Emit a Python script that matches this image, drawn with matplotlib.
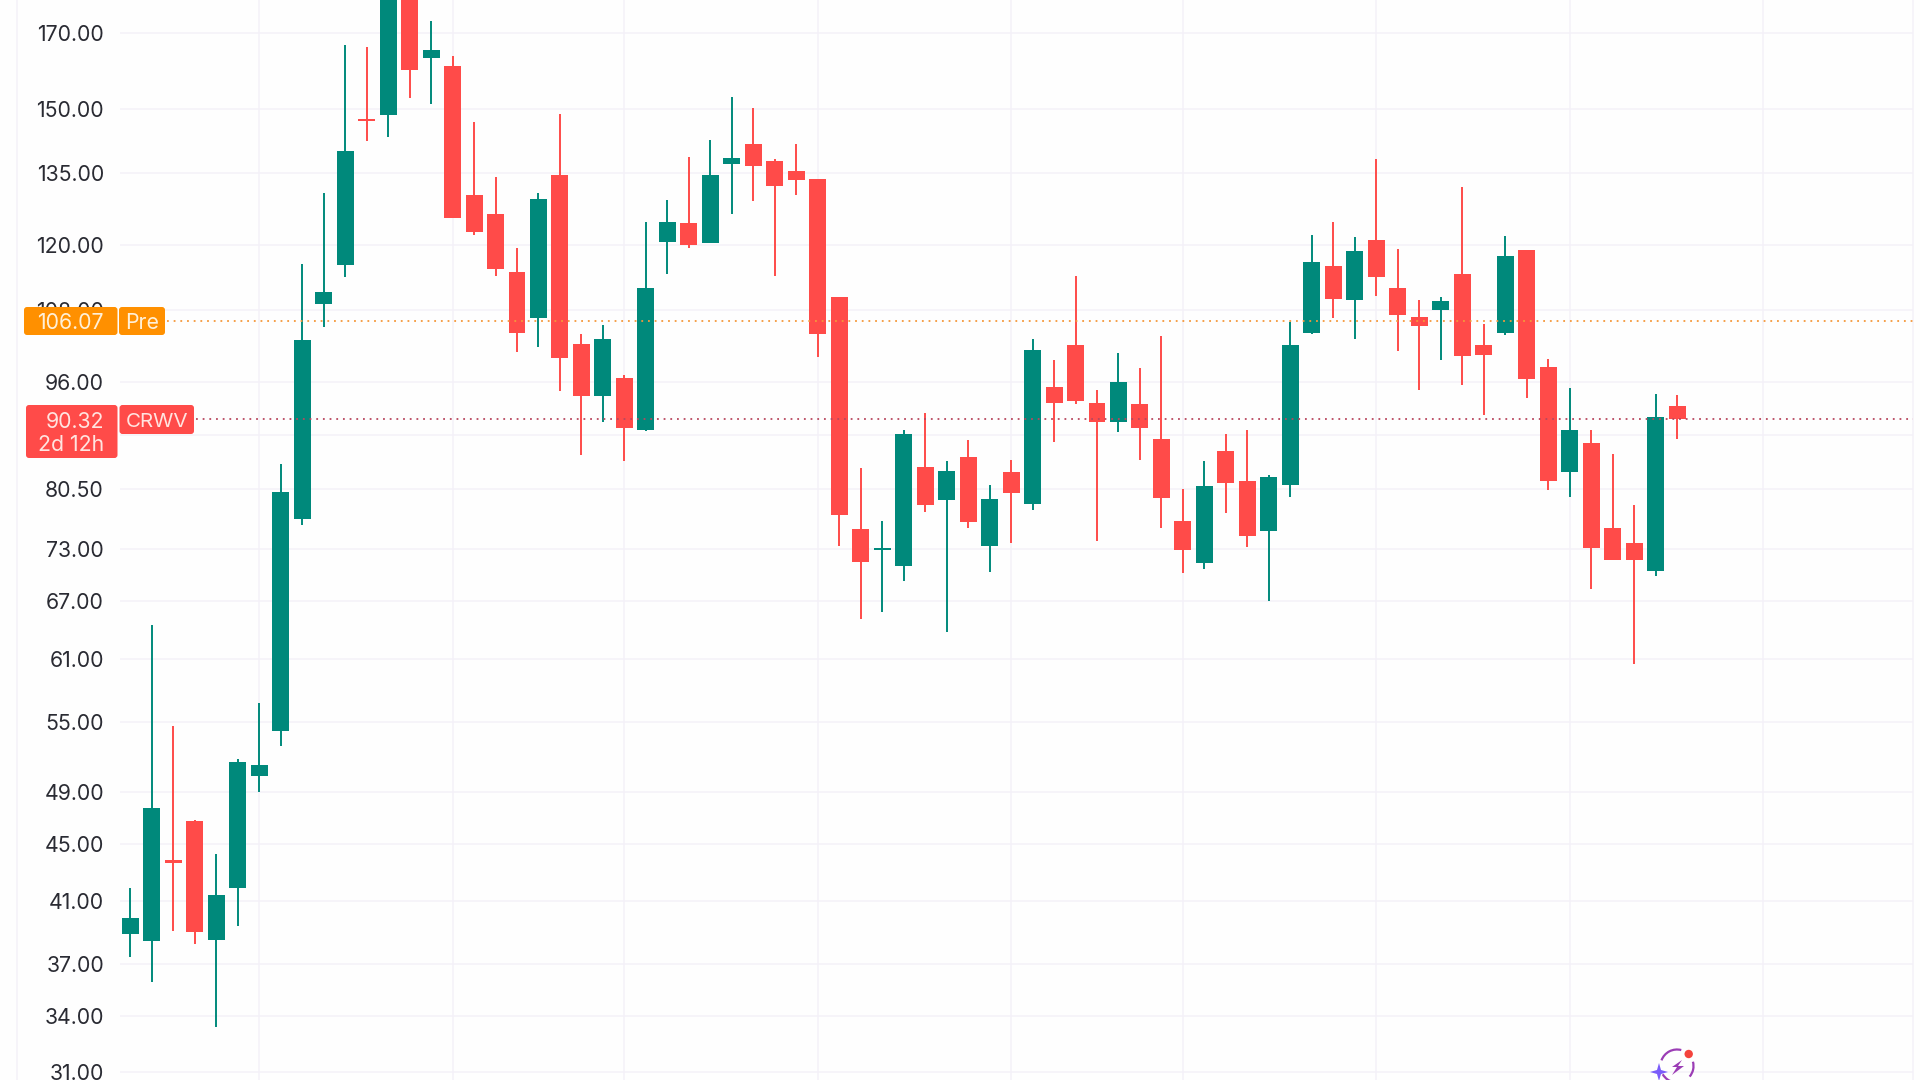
import matplotlib
matplotlib.use("Agg")
import matplotlib.pyplot as plt
from matplotlib.patches import FancyBboxPatch, Arc, Circle, Polygon
from matplotlib.transforms import blended_transform_factory

plt.rcParams["font.family"] = ["Inter", "DejaVu Sans"]

# daily candles (two run off the top of the chart)
opens = [38.89, 38.39, 43.86, 46.73, 38.51, 41.93, 50.32, 54.18, 76.73, 109.07,
         116.17, 147.64, 148.51, 188.0, 163.10, 161.07, 130.32, 126.40, 114.87, 106.53,
         134.72, 102.10, 93.82, 96.52, 88.68, 120.58, 124.52, 120.43, 137.06, 141.75,
         137.82, 135.55, 133.83, 110.23, 75.40, 72.93, 71.03, 83.51, 79.15, 84.91,
         73.37, 82.75, 78.57, 95.19, 101.99, 92.75, 89.80, 92.60, 87.34, 76.46,
         71.35, 85.74, 81.64, 75.14, 81.12, 104.01, 116.04, 109.71, 121.07, 111.94,
         106.73, 107.97, 114.56, 101.95, 103.89, 119.07, 98.29, 82.80, 86.82, 75.57,
         73.75, 70.36, 92.21]
highs = [41.87, 64.47, 54.67, 46.81, 44.30, 51.75, 56.75, 83.84, 116.37, 130.78,
         166.65, 166.00, 195.0, 192.0, 173.26, 163.62, 146.97, 134.15, 119.49, 130.78,
         148.76, 103.76, 105.29, 97.02, 124.73, 129.28, 138.76, 142.51, 153.10, 150.33,
         138.21, 141.66, 133.83, 110.23, 83.35, 76.42, 88.65, 91.18, 84.24, 87.20,
         81.07, 84.43, 102.93, 99.45, 114.22, 94.69, 100.56, 98.18, 103.38, 80.55,
         84.34, 88.19, 88.65, 82.42, 105.83, 122.03, 124.75, 121.67, 138.30, 119.39,
         109.73, 110.20, 132.05, 105.44, 121.83, 119.07, 99.67, 95.05, 88.75, 85.28,
         78.39, 94.15, 93.89]
lows = [37.40, 35.93, 39.03, 38.22, 33.39, 39.40, 49.00, 52.86, 75.97, 104.92,
        113.86, 142.46, 143.33, 152.87, 151.25, 125.60, 122.12, 114.13, 100.78, 101.61,
        94.56, 85.21, 89.88, 84.34, 88.60, 114.52, 119.43, 120.43, 126.32, 128.98,
        114.10, 130.38, 100.00, 73.35, 65.13, 65.87, 69.23, 77.58, 63.72, 75.61,
        70.28, 73.71, 77.80, 87.01, 92.50, 73.94, 88.41, 84.48, 75.53, 70.21,
        70.64, 77.45, 73.19, 67.06, 79.44, 103.84, 106.50, 102.98, 110.45, 100.98,
        94.73, 99.55, 95.52, 90.95, 103.66, 93.42, 80.45, 79.48, 68.42, 71.70,
        60.50, 69.82, 87.40]
closes = [39.89, 47.73, 43.64, 38.97, 41.44, 51.51, 51.29, 80.16, 102.73, 111.17,
          140.17, 147.01, 190.0, 159.83, 165.24, 125.60, 122.73, 115.47, 103.99, 129.47,
          99.79, 93.82, 102.96, 88.93, 111.98, 124.75, 120.15, 134.70, 138.44, 136.72,
          132.35, 133.51, 103.79, 77.15, 71.44, 73.11, 88.19, 78.48, 82.89, 76.24,
          79.19, 80.01, 101.11, 92.75, 93.01, 89.80, 95.95, 89.03, 79.31, 72.87,
          80.99, 81.38, 74.58, 82.07, 101.99, 116.70, 109.95, 118.92, 113.86, 107.11,
          105.24, 109.51, 100.18, 100.36, 117.85, 96.42, 81.56, 88.75, 73.06, 71.75,
          71.68, 90.54, 90.32]

price_ticks = [170, 150, 135, 120, 108, 96, 88, 80.5, 73, 67, 61, 55, 49, 45, 41, 37, 34, 31]
unlabelled_ticks = [88]
time_grid = [6, 15, 23, 32, 41, 49, 58, 67, 76]

pre_price = 106.07
last_price = 90.32
symbol = "CRWV"
countdown = "2d 12h"

GREEN = "#00897B"
RED = "#FF4B49"
ORANGE = "#FF9000"
GRID = "#F4F1F8"
TEXT = "#2A2B33"
FONT = 15.3

fig = plt.figure(figsize=(19.2, 10.8), dpi=100, facecolor="#FEFEFE")
ax = fig.add_axes([0, 0, 1, 1])
ax.set_yscale("log")
ax.set_xlim(-6.066, 83.31)
ax.set_ylim(30.6, 179.34)
ax.axis("off")

# grid, labels sit on a clear gutter left of the candles
for t in time_grid:
    ax.axvline(t, color=GRID, lw=1.1, zorder=1)
ax.axvline(-5.27, color=GRID, lw=1.1, zorder=1)
ax.axvline(83.0, color=GRID, lw=1.1, zorder=1)
ax.hlines(price_ticks, -0.48, 83.0, color=GRID, lw=1.1, zorder=1)

label_tf = blended_transform_factory(ax.transAxes, ax.transData)
for p in price_ticks:
    if p in unlabelled_ticks:
        continue
    ax.text(104 / 1920, p, f"{p:.2f}", transform=label_tf, ha="right", va="center_baseline",
            fontsize=FONT, color=TEXT, zorder=2, clip_on=False)

# candles
for i in range(len(opens)):
    color = GREEN if closes[i] >= opens[i] else RED
    bottom = min(opens[i], closes[i])
    height = abs(closes[i] - opens[i])
    ax.vlines(i, lows[i], highs[i], color=color, lw=1.4, zorder=3)
    ax.bar(i, height, width=0.79, bottom=bottom, color=color, linewidth=0, zorder=4)

# price lines
ax.hlines(pre_price, 1.72, 83.0, color="#F5983A", lw=1.3, linestyles=(0, (1, 2.7)), zorder=5)
ax.hlines(last_price, 3.07, 83.0, color="#B8475E", lw=1.3, linestyles=(0, (1, 2.7)), zorder=5)

# overlay in pixels for the tags and the badge
ov = fig.add_axes([0, 0, 1, 1])
ov.set_xlim(0, 1920)
ov.set_ylim(1080, 0)
ov.axis("off")
ov.patch.set_alpha(0)


def tag(x0, y0, x1, y1, color):
    ov.add_patch(FancyBboxPatch((x0, y0), x1 - x0, y1 - y0, boxstyle="round,pad=0,rounding_size=3",
                                facecolor=color, edgecolor="none", zorder=6))


tag(24, 307, 117.5, 335, ORANGE)
tag(119, 307, 165, 335, ORANGE)
ov.text(104, 321, f"{pre_price:.2f}", ha="right", va="center_baseline", fontsize=FONT, color="#FFF0D8", zorder=7)
ov.text(142, 321, "Pre", ha="center", va="center_baseline", fontsize=FONT, color="#FFF0D8", zorder=7)

tag(26, 405, 117.5, 458, RED)
tag(119.5, 405, 194, 434, RED)
ov.text(104, 420, f"{last_price:.2f}", ha="right", va="center_baseline", fontsize=FONT, color="#FFE4E0", zorder=7)
ov.text(104, 443, countdown, ha="right", va="center_baseline", fontsize=FONT, color="#FFE4E0", zorder=7)
ov.text(157, 420, symbol, ha="center", va="center_baseline", fontsize=14.8, color="#FFE4E0", zorder=7)

# badge at the bottom edge
purple = "#9B3DB5"
for a, b in [(200, 285), (-15, 40), (100, 150)]:
    ov.add_patch(Arc((1677, 1066), 33, 33, theta1=a, theta2=b, color=purple, lw=1.6, zorder=6))
ov.add_patch(Polygon([(1682, 1060), (1672, 1067), (1677, 1067), (1672, 1075),
                      (1684, 1066), (1678, 1066)], closed=True, facecolor=purple, edgecolor="none", zorder=6))
ov.add_patch(Circle((1688.7, 1054), 4.2, facecolor="#F4433C", edgecolor="none", zorder=7))
ov.add_patch(Polygon([(1659, 1063), (1661, 1070), (1668, 1072), (1661, 1074),
                      (1659, 1081), (1657, 1074), (1650, 1072), (1657, 1070)],
                     closed=True, facecolor="#7A5CFA", edgecolor="none", zorder=7))

fig.savefig("out.png", dpi=100, facecolor=fig.get_facecolor())
plt.close(fig)
